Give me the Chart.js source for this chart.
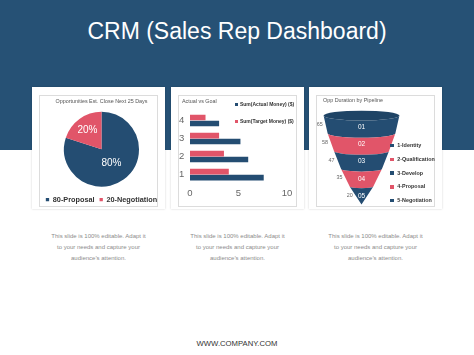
<!DOCTYPE html>
<html><head><meta charset="utf-8">
<script src="https://cdn.jsdelivr.net/npm/chart.js@4.4.0/dist/chart.umd.min.js"></script>
<style>
html,body{margin:0;padding:0;background:#fff;}
body{width:474px;height:355px;position:relative;overflow:hidden;font-family:"Liberation Sans",Arial,sans-serif;}
#hdr{position:absolute;left:0;top:0;width:474px;height:150px;background:#265175;}
#title{position:absolute;left:0;top:16px;width:474px;text-align:center;color:#fff;font-size:23px;line-height:30px;white-space:nowrap;}
.panel{position:absolute;top:87px;width:133px;height:122px;background:#fff;box-shadow:0 0 2px rgba(0,0,0,.18);}
.inner{position:absolute;left:7px;top:8px;width:117px;height:110px;border:1px solid #dcdcdc;}
canvas{position:absolute;}
.desc{position:absolute;top:231px;width:133px;text-align:center;color:#8c8c8c;font-size:6px;line-height:10.8px;white-space:nowrap;}
#footer{position:absolute;left:0;top:339px;width:474px;text-align:center;color:#333;font-size:7.7px;line-height:10px;}
.lg{position:absolute;font-weight:bold;color:#333;white-space:nowrap;display:flex;align-items:center;}
.lg i{display:inline-block;flex:none;}
</style>
</head>
<body>
<div id="hdr"></div>
<div id="title">CRM (Sales Rep Dashboard)</div>
<div class="panel" style="left:32px"><div class="inner"></div></div>
<div class="panel" style="left:171px"><div class="inner"></div></div>
<div class="panel" style="left:309px"><div class="inner"></div></div>
<canvas id="pie" width="134" height="119" style="left:34px;top:95px;width:134px;height:119px"></canvas>
<canvas id="bar" width="130" height="108" style="left:172px;top:95px;width:130px;height:108px"></canvas>
<canvas id="funnel" width="129" height="112" style="left:312px;top:95px;width:129px;height:112px"></canvas>
<div id="barLegend"></div>
<div id="funnelLegend"></div>
<div class="desc" style="left:32px">This slide is 100% editable. Adapt it<br>to your needs and capture your<br>audience’s attention.</div>
<div class="desc" style="left:171px">This slide is 100% editable. Adapt it<br>to your needs and capture your<br>audience’s attention.</div>
<div class="desc" style="left:309px">This slide is 100% editable. Adapt it<br>to your needs and capture your<br>audience’s attention.</div>
<div id="footer">WWW.COMPANY.COM</div>
<script>
// ---- data ----
const pieLabels = ['80-Proposal', '20-Negotiation'];
const pieValues = [80, 20];

const barCategories = ['1', '2', '3', '4'];
const actualMoney = [7.6, 6.0, 5.2, 3.0];
const targetMoney = [4.0, 3.5, 3.0, 1.6];
const barTicks = [0, 5, 10];

const funnelStages = ['1-Identity', '2-Qualification', '3-Develop', '4-Proposal', '5-Negotiation'];
const funnelCodes = ['01', '02', '03', '04', '05'];
const funnelDurations = [65, 58, 47, 35, 20];

const BLUE = '#244d72', RED = '#e15569', BLUE_DARK = '#1f4465';
const FONT = '"Liberation Sans", Arial, sans-serif';
Chart.defaults.font.family = FONT;

// ---- pie ----
const pieLabelPlugin = {
  id: 'pieLbl',
  afterDatasetsDraw(chart) {
    const ctx = chart.ctx;
    const vals = chart.data.datasets[0].data;
    const total = vals.reduce((a, b) => a + b, 0);
    ctx.save();
    ctx.fillStyle = '#fff';
    ctx.font = '10px ' + FONT;
    ctx.textAlign = 'center';
    ctx.textBaseline = 'middle';
    chart.getDatasetMeta(0).data.forEach((arc, i) => {
      const p = arc.getProps(['x', 'y', 'startAngle', 'endAngle', 'outerRadius'], true);
      const mid = (p.startAngle + p.endAngle) / 2;
      const f = vals[i] / total < 0.5 ? 0.64 : 0.45;
      ctx.fillText(Math.round(vals[i] / total * 100) + '%', p.x + Math.cos(mid) * p.outerRadius * f, p.y + Math.sin(mid) * p.outerRadius * f);
    });
    ctx.restore();
  }
};
new Chart(document.getElementById('pie'), {
  type: 'pie',
  data: { labels: pieLabels, datasets: [{ data: pieValues, backgroundColor: [BLUE, RED], borderWidth: 0 }] },
  options: {
    responsive: false, animation: false, radius: 37.5,
    layout: { padding: { left: 1, right: 0, top: 0, bottom: 0.75 } },
    plugins: {
      title: { display: true, text: 'Opportunities Est. Close Next 25 Days', color: '#555', font: { size: 5.4, weight: 'normal' }, padding: { top: 3, bottom: 3 } },
      legend: { position: 'bottom', labels: { boxWidth: 3.3, boxHeight: 3.3, padding: 5, color: '#333', font: { size: 7.3, weight: 'bold' } } },
      tooltip: { enabled: false }
    }
  },
  plugins: [pieLabelPlugin]
});

// ---- bar ----
new Chart(document.getElementById('bar'), {
  type: 'bar',
  data: {
    labels: barCategories,
    datasets: [
      { label: 'Sum(Target Money) ($)', data: targetMoney, backgroundColor: RED },
      { label: 'Sum(Actual Money) ($)', data: actualMoney, backgroundColor: BLUE }
    ]
  },
  options: {
    indexAxis: 'y', responsive: false, animation: false,
    categoryPercentage: 0.66, barPercentage: 0.95,
    layout: { padding: { left: 10, right: 15, top: 0, bottom: 0 } },
    scales: {
      x: {
        min: 0, max: 10,
        afterBuildTicks: s => { s.ticks = barTicks.map(v => ({ value: v })); },
        grid: { display: false, drawTicks: false }, border: { display: false },
        ticks: { padding: 4, color: '#666', font: { size: 9.5 } }
      },
      y: {
        reverse: true,
        grid: { display: false, drawTicks: false }, border: { display: false },
        ticks: { mirror: true, padding: -11, color: '#666', font: { size: 9.5 } },
        afterFit: s => { s.width = 8; }
      }
    },
    plugins: {
      legend: { display: false },
      title: { display: true, align: 'start', text: 'Actual vs Goal', color: '#555', font: { size: 5.4, weight: 'normal' }, padding: { top: 3, bottom: 7 } },
      tooltip: { enabled: false }
    }
  }
});

// ---- funnel ----
const funnelPlugin = {
  id: 'funnelDraw',
  afterDatasetsDraw(chart) {
    const ctx = chart.ctx;
    const meta = chart.getDatasetMeta(0);
    const cx = chart.scales.x.getPixelForValue(0);
    const els = meta.data;
    const colors = chart.data.datasets[0].segmentColors;
    const vals = chart.data.datasets[0].values;
    const K = 0.13;
    ctx.save();
    const geo = els.map((el, i) => {
      const p = el.getProps(['x', 'y', 'height'], true);
      const top = p.y - p.height / 2, bot = p.y + p.height / 2;
      const at = p.x - cx;
      const ab = i < els.length - 1 ? els[i + 1].getProps(['x'], true).x - cx : 0;
      return { top, bot, at, ab, y: p.y };
    });
    geo.forEach((g, i) => {
      ctx.beginPath();
      ctx.moveTo(cx - g.at, g.top);
      if (g.ab > 0) {
        ctx.lineTo(cx - g.ab, g.bot);
        ctx.ellipse(cx, g.bot, g.ab, g.ab * K, 0, Math.PI, 0, true);
      } else {
        ctx.lineTo(cx, g.bot);
      }
      ctx.lineTo(cx + g.at, g.top);
      ctx.ellipse(cx, g.top, g.at, g.at * K, 0, 0, Math.PI, false);
      ctx.closePath();
      ctx.fillStyle = colors[i];
      ctx.fill();
      if (i === 0) {
        ctx.beginPath();
        ctx.ellipse(cx, g.top, g.at, g.at * K, 0, 0, Math.PI * 2);
        ctx.fillStyle = BLUE_DARK;
        ctx.fill();
      }
    });
    ctx.textBaseline = 'middle';
    geo.forEach((g, i) => {
      ctx.fillStyle = '#fff';
      ctx.font = '6.5px ' + FONT;
      ctx.textAlign = 'center';
      ctx.fillText(chart.data.labels[i], cx, g.y + (g.at + g.ab) / 2 * K * 0.5);
      ctx.fillStyle = '#666';
      ctx.font = '5.4px ' + FONT;
      ctx.textAlign = 'right';
      ctx.fillText(String(vals[i]), cx - (g.at + g.ab) / 2 - 3, g.y);
    });
    ctx.restore();
  }
};
new Chart(document.getElementById('funnel'), {
  type: 'bar',
  data: {
    labels: funnelCodes,
    datasets: [{
      label: 'Opp Duration by Pipeline',
      data: funnelDurations.map(v => [-v / 2, v / 2]),
      values: funnelDurations,
      segmentColors: funnelCodes.map((c, i) => i % 2 ? RED : BLUE),
      backgroundColor: 'rgba(0,0,0,0)',
      categoryPercentage: 1, barPercentage: 1
    }]
  },
  options: {
    indexAxis: 'y', responsive: false, animation: false,
    layout: { padding: { left: 11, right: 41, top: 0, bottom: 2.4 } },
    scales: { x: { display: false, min: -33, max: 33 }, y: { display: false } },
    plugins: {
      legend: { display: false },
      title: { display: true, align: 'start', text: 'Opp Duration by Pipeline', color: '#555', font: { size: 5.4, weight: 'normal' }, padding: { top: 2, bottom: 12.1 } },
      tooltip: { enabled: false }
    }
  },
  plugins: [funnelPlugin]
});

// ---- HTML legends ----
function legendItem(parent, text, color, x, yc, fs, box, gap) {
  const d = document.createElement('div');
  d.className = 'lg';
  d.style.left = x + 'px';
  d.style.top = (yc - fs / 2) + 'px';
  d.style.height = fs + 'px';
  d.style.fontSize = fs + 'px';
  d.style.lineHeight = fs + 'px';
  const i = document.createElement('i');
  i.style.width = box + 'px'; i.style.height = box + 'px';
  i.style.background = color; i.style.marginRight = gap + 'px';
  d.appendChild(i);
  d.appendChild(document.createTextNode(text));
  parent.appendChild(d);
}
const bl = document.getElementById('barLegend');
legendItem(bl, 'Sum(Actual Money) ($)', BLUE, 235.3, 104, 5, 3, 1.7);
legendItem(bl, 'Sum(Target Money) ($)', RED, 235.3, 121.7, 5, 3, 1.7);
const fl = document.getElementById('funnelLegend');
funnelStages.forEach((s, i) => legendItem(fl, s, i % 2 ? RED : BLUE, 390, 145.7 + i * 13.75, 5.4, 3.5, 3.8));
</script>
</body></html>
